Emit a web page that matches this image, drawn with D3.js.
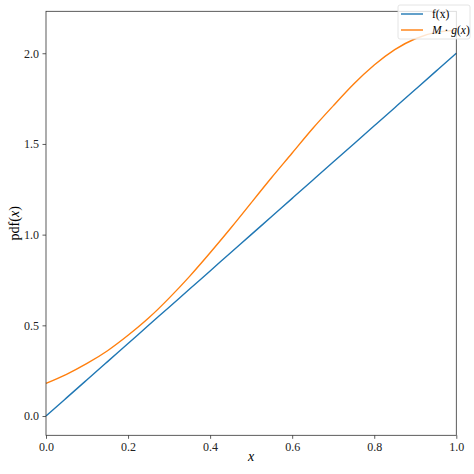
<!DOCTYPE html>
<html>
<head>
<meta charset="utf-8">
<script src="https://cdn.jsdelivr.net/npm/d3@7"></script>
<style>
  body { margin: 0; background: #fff; }
  svg { display: block; font-family: "Liberation Serif", "DejaVu Serif", serif; }
</style>
</head>
<body>
<svg id="chart" width="474" height="474"></svg>
<script>
// values
const x_vals = [0, 0.05, 0.1, 0.15, 0.2, 0.25, 0.3, 0.35, 0.4, 0.45, 0.5,
                0.55, 0.6, 0.65, 0.7, 0.75, 0.8, 0.85, 0.9, 0.95, 1.0];
const f_vals = [0, 0.1, 0.2, 0.3, 0.4, 0.5, 0.6, 0.7, 0.8, 0.9, 1.0,
                1.1, 1.2, 1.3, 1.4, 1.5, 1.6, 1.7, 1.8, 1.9, 2.0];
const mg_vals = [0.18, 0.23, 0.29, 0.36, 0.445, 0.54, 0.65, 0.77, 0.90, 1.035, 1.175,
                 1.315, 1.45, 1.585, 1.71, 1.83, 1.935, 2.02, 2.08, 2.115, 2.125];
const x_ticks = [0, 0.2, 0.4, 0.6, 0.8, 1.0];
const y_ticks = [0, 0.5, 1.0, 1.5, 2.0];

var svg = d3.select("#chart");
var margin = {left: 46, right: 474 - 456.3, top: 11.3, bottom: 474 - 435.3};
var width = 474 - margin.left - margin.right;
var height = 474 - margin.top - margin.bottom;

var ymax = d3.max(mg_vals.concat(f_vals));
var ymin = d3.min(mg_vals.concat(f_vals));
var pad = (ymax - ymin) * 0.05;

var x = d3.scaleLinear().domain([0, 1]).range([0, width]);
var y = d3.scaleLinear().domain([ymin - pad, ymax + pad]).range([height, 0]);

var g = svg.append("g")
    .attr("transform", "translate(" + margin.left + "," + margin.top + ")");

var line = d3.line().curve(d3.curveNatural);

g.append("path")
    .attr("d", line(x_vals.map((v, i) => [x(v), y(f_vals[i])])))
    .attr("fill", "none")
    .attr("stroke", "#1f77b4")
    .attr("stroke-width", 1.4);

g.append("path")
    .attr("d", line(x_vals.map((v, i) => [x(v), y(mg_vals[i])])))
    .attr("fill", "none")
    .attr("stroke", "#ff7f0e")
    .attr("stroke-width", 1.4);

// axes
var xAxis = g.append("g")
    .attr("transform", "translate(0," + height + ")")
    .call(d3.axisBottom(x).tickValues(x_ticks).tickFormat(d3.format(".1f")).tickSize(3.5).tickPadding(3.5));
var yAxis = g.append("g")
    .call(d3.axisLeft(y).tickValues(y_ticks).tickFormat(d3.format(".1f")).tickSize(3.5).tickPadding(3.5));

[xAxis, yAxis].forEach(function (a) {
    a.select(".domain").remove();
    a.selectAll("line").attr("stroke", "#333").attr("stroke-width", 0.8);
    a.selectAll("text")
        .style("font-family", "'Liberation Serif', serif")
        .style("font-size", "12px")
        .attr("fill", "#222");
});

g.append("rect")
    .attr("width", width)
    .attr("height", height)
    .attr("fill", "none")
    .attr("stroke", "#333")
    .attr("stroke-width", 0.8);

// axis labels
g.append("text")
    .attr("x", width / 2)
    .attr("y", height + 26)
    .attr("text-anchor", "middle")
    .style("font-style", "italic")
    .style("font-size", "14px")
    .text("x");

var ylab = svg.append("text")
    .attr("transform", "translate(19," + (margin.top + height / 2) + ") rotate(-90)")
    .attr("text-anchor", "middle")
    .style("font-size", "14px");
ylab.append("tspan").text("pdf(");
ylab.append("tspan").style("font-style", "italic").text("x");
ylab.append("tspan").text(")");

// legend
var leg = svg.append("g").attr("transform", "translate(398,5)");
leg.append("rect")
    .attr("width", 72)
    .attr("height", 34)
    .attr("rx", 2)
    .attr("fill", "#fff")
    .attr("fill-opacity", 0.8)
    .attr("stroke", "#ddd")
    .attr("stroke-width", 0.8);

var keys = [
    {color: "#1f77b4", parts: [["f(x)", "normal"]]},
    {color: "#ff7f0e", parts: [["M", "italic"], [" \u00b7 ", "normal"], ["g", "italic"], ["(", "normal"], ["x", "italic"], [")", "normal"]]}
];
keys.forEach(function (k, i) {
    var yy = 9 + i * 16;
    leg.append("line")
        .attr("x1", 3).attr("x2", 25)
        .attr("y1", yy).attr("y2", yy)
        .attr("stroke", k.color)
        .attr("stroke-width", 1.4);
    var t = leg.append("text")
        .attr("x", 34)
        .attr("y", yy)
        .attr("dy", "0.35em")
        .style("font-size", "11.5px");
    k.parts.forEach(function (p) {
        t.append("tspan").style("font-style", p[1]).text(p[0]);
    });
});
</script>
</body>
</html>
